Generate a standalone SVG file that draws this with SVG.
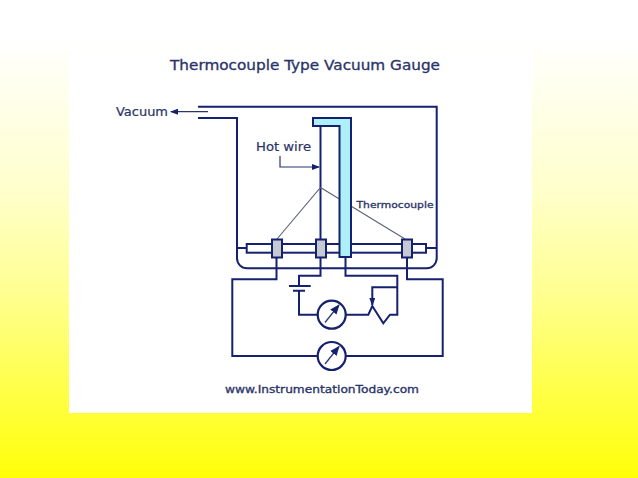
<svg xmlns="http://www.w3.org/2000/svg" width="638" height="478" viewBox="0 0 638 478">
<style>
text{font-family:"DejaVu Sans","Liberation Sans",sans-serif;fill:#2b3468;stroke:#2b3468}
.w{fill:none;stroke:#15206e;stroke-width:2;stroke-linejoin:miter}
.g{fill:none;stroke:#5a6078;stroke-width:1.1}
.t{fill:none;stroke:#2b3468;stroke-width:1.2}
.b{fill:#c6cad2;stroke:#15206e;stroke-width:2}
.m{fill:#fff;stroke:#15206e;stroke-width:2.2}
.n{fill:none;stroke:#2b3a78;stroke-width:1.3}
</style>
<defs>
<linearGradient id="bg" x1="0" y1="0" x2="0" y2="1">
<stop offset="0" stop-color="#fff"/><stop offset="0.08" stop-color="#fff"/><stop offset="0.4" stop-color="#ffffcc"/><stop offset="0.63" stop-color="#ffff8c"/><stop offset="0.84" stop-color="#ffff40"/><stop offset="1" stop-color="#ffff08"/>
</linearGradient>
<marker id="ah" markerWidth="8" markerHeight="6" refX="7" refY="3" orient="auto" markerUnits="userSpaceOnUse"><path d="M0 0L8 3L0 6Z" fill="#15206e"/></marker>
<marker id="nh" markerWidth="10" markerHeight="9" refX="9" refY="4.5" orient="auto" markerUnits="userSpaceOnUse"><path d="M0 0.5L10 4.5L0 8.5Z" fill="#15206e"/></marker>
</defs>
<rect width="638" height="478" fill="url(#bg)"/>
<rect x="69" y="50" width="463" height="363" fill="#fff"/>
<text x="170" y="70" font-size="13.5" stroke-width="0.3" textLength="270" lengthAdjust="spacingAndGlyphs">Thermocouple Type Vacuum Gauge</text>
<text x="116" y="115.5" font-size="11.5" stroke-width="0.2" textLength="52" lengthAdjust="spacingAndGlyphs">Vacuum</text>
<text x="256" y="151" font-size="11.5" stroke-width="0.2" textLength="55" lengthAdjust="spacingAndGlyphs">Hot wire</text>
<text x="356.5" y="207.5" font-size="9" stroke-width="0.3" textLength="77" lengthAdjust="spacingAndGlyphs">Thermocouple</text>
<text x="225" y="392.5" font-size="11" stroke-width="0.35" textLength="194" lengthAdjust="spacingAndGlyphs">www.InstrumentationToday.com</text>
<g id="connectors">
<path class="w" d="M198 106.7H436.7V258.3a10 10 0 0 1-10 10H247a10 10 0 0 1-10-10V118H198"/>
<path class="w" d="M237 248H246.7M426 248H436.7"/>
<path class="w" d="M320.5 126V239"/>
<path class="g" d="M277 239L320.5 187.5L405 239"/>
<path class="t" marker-end="url(#ah)" d="M208 111.7H171"/>
<path class="t" marker-end="url(#ah)" d="M280 156V167H319"/>
<path class="w" d="M276.5 257V279.3H232.3V356H317.5M346 356H442.7V279.3H407V257"/>
<path class="w" d="M320.5 257V275.7H299V286M299 290.7V314.7H317.7"/>
<path class="w" d="M345.5 257V275.7H397.3V314.7H390L383.3 323.3L372.3 306L368.3 314.7H346"/>
<path class="w" marker-end="url(#ah)" d="M397.3 287.3H372.3V305"/>
</g>
<g id="bar"><rect x="246.7" y="244" width="179.3" height="8.7" fill="#fff" stroke="#15206e" stroke-width="2"/></g>
<g id="block-left"><rect class="b" x="272" y="239.5" width="10" height="18"/></g>
<g id="block-mid"><rect class="b" x="316" y="239.5" width="10" height="18"/></g>
<g id="block-right"><rect class="b" x="402" y="239.5" width="10" height="18"/></g>
<g id="thermocouple"><path d="M313 118H351V257H339.5V126H313Z" fill="#adf0fa" stroke="#15206e" stroke-width="2"/></g>
<g id="battery"><path class="w" d="M289 286H310.7M293 290.7H305"/></g>
<g id="meter-1"><circle class="m" cx="331.7" cy="314.7" r="14"/><path class="n" marker-end="url(#nh)" d="M325 322.5L339 305"/></g>
<g id="meter-2"><circle class="m" cx="331.7" cy="356" r="14"/><path class="n" marker-end="url(#nh)" d="M325 364L339 346.5"/></g>
</svg>
